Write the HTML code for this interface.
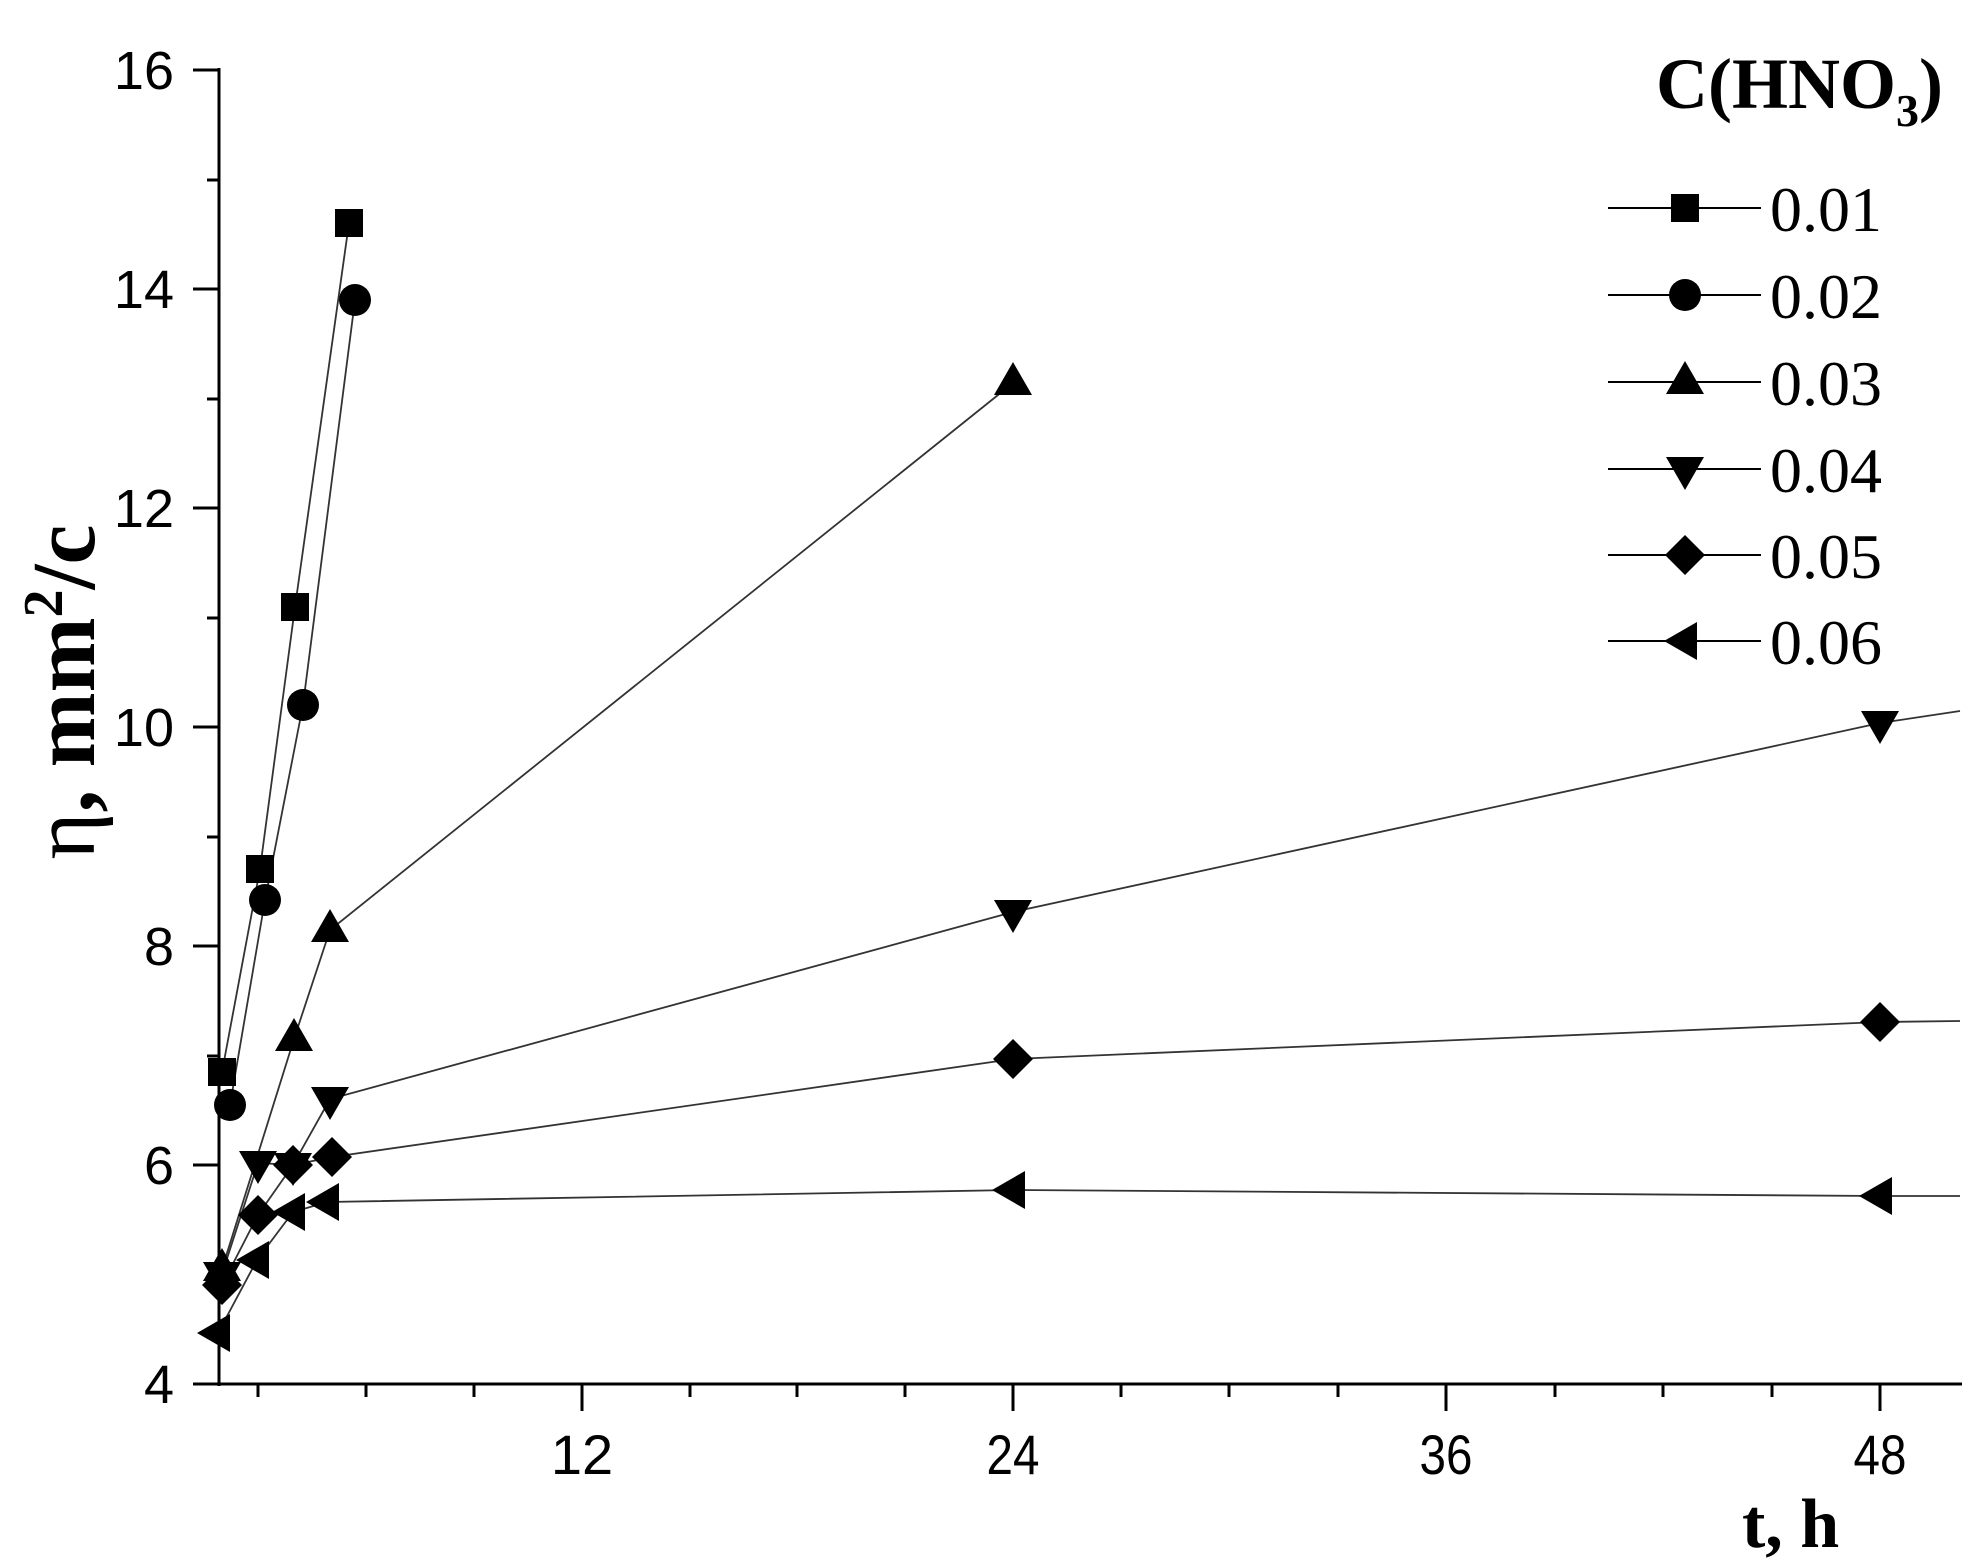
<!DOCTYPE html>
<html><head><meta charset="utf-8"><style>
html,body{margin:0;padding:0;background:#fff;}
svg{display:block;}
</style></head><body>
<svg width="1985" height="1567" viewBox="0 0 1985 1567" xmlns="http://www.w3.org/2000/svg">
<defs>
<rect id="sq" x="-14" y="-14" width="28" height="28" fill="#000"/>
<circle id="ci" r="16" fill="#000"/>
<polygon id="tu" points="0,-21 19,12 -19,12" fill="#000"/>
<polygon id="td" points="0,21 19,-12 -19,-12" fill="#000"/>
<polygon id="di" points="0,-20 20,0 0,20 -20,0" fill="#000"/>
<polygon id="tl" points="-21,0 12,-19 12,19" fill="#000"/>
</defs>
<g stroke="#000" stroke-width="3" fill="none">
<line x1="219" y1="68" x2="219" y2="1386"/>
<line x1="217" y1="1384" x2="1962" y2="1384"/>
<line x1="193" y1="70" x2="219" y2="70"/>
<line x1="193" y1="289" x2="219" y2="289"/>
<line x1="193" y1="508" x2="219" y2="508"/>
<line x1="193" y1="727" x2="219" y2="727"/>
<line x1="193" y1="946" x2="219" y2="946"/>
<line x1="193" y1="1165" x2="219" y2="1165"/>
<line x1="193" y1="1384" x2="219" y2="1384"/>
<line x1="207" y1="180" x2="219" y2="180"/>
<line x1="207" y1="399" x2="219" y2="399"/>
<line x1="207" y1="618" x2="219" y2="618"/>
<line x1="207" y1="837" x2="219" y2="837"/>
<line x1="207" y1="1056" x2="219" y2="1056"/>
<line x1="207" y1="1275" x2="219" y2="1275"/>
<line x1="582" y1="1384" x2="582" y2="1411"/>
<line x1="1013" y1="1384" x2="1013" y2="1411"/>
<line x1="1446" y1="1384" x2="1446" y2="1411"/>
<line x1="1880" y1="1384" x2="1880" y2="1411"/>
<line x1="258" y1="1384" x2="258" y2="1397"/>
<line x1="366" y1="1384" x2="366" y2="1397"/>
<line x1="474" y1="1384" x2="474" y2="1397"/>
<line x1="690" y1="1384" x2="690" y2="1397"/>
<line x1="797" y1="1384" x2="797" y2="1397"/>
<line x1="905" y1="1384" x2="905" y2="1397"/>
<line x1="1121" y1="1384" x2="1121" y2="1397"/>
<line x1="1229" y1="1384" x2="1229" y2="1397"/>
<line x1="1338" y1="1384" x2="1338" y2="1397"/>
<line x1="1555" y1="1384" x2="1555" y2="1397"/>
<line x1="1663" y1="1384" x2="1663" y2="1397"/>
<line x1="1772" y1="1384" x2="1772" y2="1397"/>
</g>
<g font-family="Liberation Sans, sans-serif" font-size="54" fill="#000" text-anchor="end">
<text x="174" y="89">16</text>
<text x="174" y="308">14</text>
<text x="174" y="527">12</text>
<text x="174" y="746">10</text>
<text x="174" y="965">8</text>
<text x="174" y="1184">6</text>
<text x="174" y="1403">4</text>
</g>
<g font-family="Liberation Sans, sans-serif" font-size="56" fill="#000" text-anchor="middle">
<text x="582" y="1474">12</text>
<text x="1013" y="1474" transform="translate(1013 0) scale(0.85 1) translate(-1013 0)">24</text>
<text x="1446" y="1474" transform="translate(1446 0) scale(0.85 1) translate(-1446 0)">36</text>
<text x="1880" y="1474" transform="translate(1880 0) scale(0.85 1) translate(-1880 0)">48</text>
</g>
<g stroke="#333" stroke-width="1.8" fill="none">
<polyline points="222,1072 260,869 295,607 349,223"/>
<polyline points="230,1105 265,900 303,705 355,300"/>
<polyline points="222,1269 294,1039 330,930 1013,383"/>
<polyline points="222,1274 258,1163 293,1165 330,1099 1013,912 1880,723 1960,711"/>
<polyline points="222,1285 258,1215 293,1165 332,1157 1013,1059 1880,1022 1960,1021"/>
<polyline points="218,1333 257,1260 293,1212 327,1202 1013,1190 1880,1196 1960,1196"/>
</g>
<use href="#sq" x="222" y="1072"/><use href="#sq" x="260" y="869"/><use href="#sq" x="295" y="607"/><use href="#sq" x="349" y="223"/>
<use href="#ci" x="230" y="1105"/><use href="#ci" x="265" y="900"/><use href="#ci" x="303" y="705"/><use href="#ci" x="355" y="300"/>
<use href="#tu" x="222" y="1269"/><use href="#tu" x="294" y="1039"/><use href="#tu" x="330" y="930"/><use href="#tu" x="1013" y="383"/>
<use href="#td" x="222" y="1274"/><use href="#td" x="258" y="1163"/><use href="#td" x="293" y="1165"/><use href="#td" x="330" y="1099"/><use href="#td" x="1013" y="912"/><use href="#td" x="1880" y="723"/>
<use href="#di" x="222" y="1285"/><use href="#di" x="258" y="1215"/><use href="#di" x="293" y="1165"/><use href="#di" x="332" y="1157"/><use href="#di" x="1013" y="1059"/><use href="#di" x="1880" y="1022"/>
<use href="#tl" x="218" y="1333"/><use href="#tl" x="257" y="1260"/><use href="#tl" x="293" y="1212"/><use href="#tl" x="327" y="1202"/><use href="#tl" x="1013" y="1190"/><use href="#tl" x="1880" y="1196"/>
<text x="1656" y="108" font-family="Liberation Serif, serif" font-weight="bold" font-size="72" fill="#000">C(HNO<tspan font-size="46" dy="18">3</tspan><tspan dy="-18">)</tspan></text>
<g stroke="#000" stroke-width="2">
<line x1="1608" y1="208" x2="1761" y2="208"/>
<line x1="1608" y1="295" x2="1761" y2="295"/>
<line x1="1608" y1="382" x2="1761" y2="382"/>
<line x1="1608" y1="469" x2="1761" y2="469"/>
<line x1="1608" y1="555" x2="1761" y2="555"/>
<line x1="1608" y1="641" x2="1761" y2="641"/>
</g>
<use href="#sq" x="1685" y="208"/><use href="#ci" x="1685" y="295"/><use href="#tu" x="1685" y="382"/><use href="#td" x="1685" y="469"/><use href="#di" x="1685" y="555"/><use href="#tl" x="1685" y="641"/>
<g font-family="Liberation Serif, serif" font-size="64" fill="#000">
<text x="1770" y="231">0.01</text>
<text x="1770" y="318">0.02</text>
<text x="1770" y="405">0.03</text>
<text x="1770" y="492">0.04</text>
<text x="1770" y="578">0.05</text>
<text x="1770" y="664">0.06</text>
</g>
<text transform="translate(94 692) rotate(-90)" text-anchor="middle" font-family="Liberation Serif, serif" font-size="90" font-weight="bold" fill="#000"><tspan font-weight="normal">η</tspan>, mm<tspan font-size="56" dy="-32">2</tspan><tspan dy="32">/c</tspan></text>
<text x="1742" y="1547" font-family="Liberation Serif, serif" font-size="70" font-weight="bold" fill="#000">t, h</text>
</svg>
</body></html>
